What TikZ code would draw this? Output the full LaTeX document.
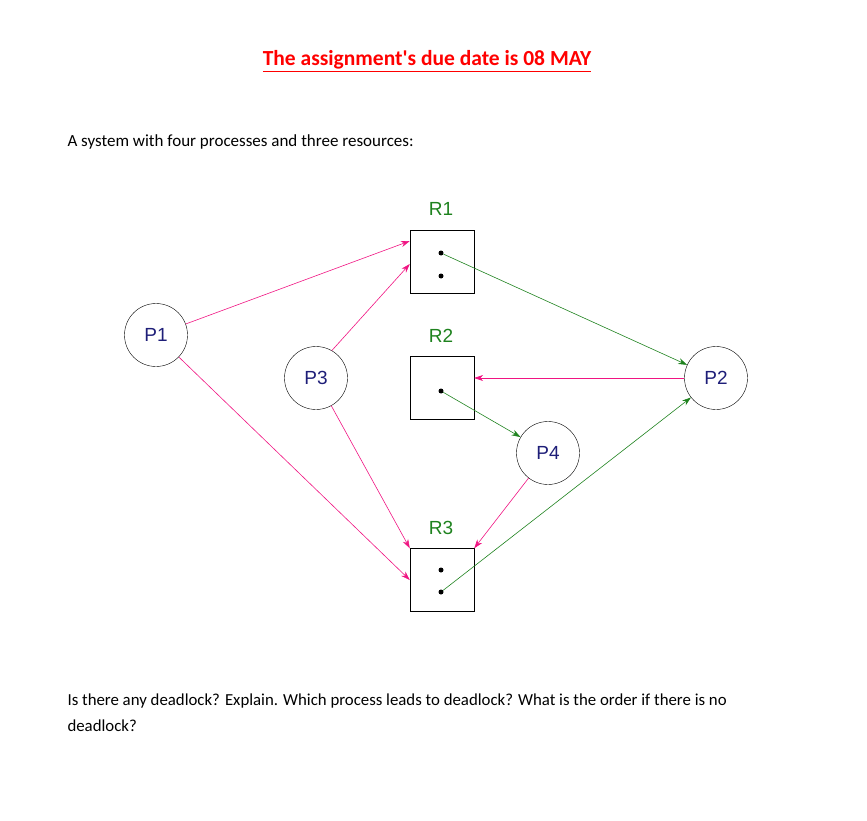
\documentclass[tikz,border=0pt]{standalone}
\usepackage{fontspec}
\setmainfont{Carlito}
\newfontfamily\titlef[Ligatures=TeXOff]{Carlito}
\newfontfamily\arialf{Liberation Sans}
\usetikzlibrary{arrows.meta}
\definecolor{pk}{RGB}{240,20,130}
\definecolor{gr}{RGB}{30,130,30}
\definecolor{nv}{RGB}{30,30,120}
\begin{document}
\begin{tikzpicture}[x=1pt,y=-1pt,
  proc/.style={draw,circle,minimum size=63pt,inner sep=0pt,font=\arialf\fontsize{19}{21}\selectfont,text=nv},
  res/.style={draw,minimum width=64pt,minimum height=63pt,inner sep=0pt},
  rlab/.style={font=\arialf\fontsize{19}{21}\selectfont,text=gr},
  dot/.style={circle,fill,inner sep=0pt,minimum size=5pt},
  req/.style={pk,-{Stealth[length=9pt,width=6pt]},line width=0.6pt},
  asg/.style={gr,-{Stealth[length=9pt,width=6pt]},line width=0.6pt},
  txt/.style={font=\fontsize{16.8}{20}\selectfont,anchor=west}]
\useasboundingbox (0,0) rectangle (867,821);
\node[font=\titlef\bfseries\fontsize{21.5}{24}\selectfont,text=red] (title) at (427,61) {\underline{The assignment's due date is 08 MAY}};
\node[txt,font=\fontsize{17}{20}\selectfont] (intro) at (64,142) {A system with four processes and three resources:};
\node[res] (R1) at (442,262) {};
\node[res] (R2) at (442,388) {};
\node[res] (R3) at (442,580) {};
\node[rlab] (l1) at (441,209) {R1};
\node[rlab] (l2) at (441,336) {R2};
\node[rlab] (l3) at (441,528) {R3};
\node[dot] (d1a) at (441,253) {};
\node[dot] (d1b) at (441,276) {};
\node[dot] (d2) at (441,391) {};
\node[dot] (d3a) at (441,570) {};
\node[dot] (d3b) at (441,592) {};
\node[proc] (P1) at (156,335) {P1};
\node[proc] (P3) at (316,378) {P3};
\node[proc] (P2) at (716,378) {P2};
\node[proc] (P4) at (548,453) {P4};
\draw[req] (P1) -- (R1.west |- 0,241);
\draw[req] (P1) -- (R3.west |- 0,580);
\draw[req] (P3.60) -- (R1.west |- 0,264);
\draw[req] (P3) -- (R3.north west);
\draw[req] (P2) -- (R2.east |- P2);
\draw[req] (P4) -- (R3.north east);
\draw[asg] (d1a) -- (P2);
\draw[asg] (d2) -- (P4);
\draw[asg] (d3b) -- (P2);
\node[txt] (q1) at (64,701) {Is there any deadlock? Explain. Which process leads to deadlock? What is the order if there is no};
\node[txt] (q2) at (64,726) {deadlock?};
\end{tikzpicture}
\end{document}
